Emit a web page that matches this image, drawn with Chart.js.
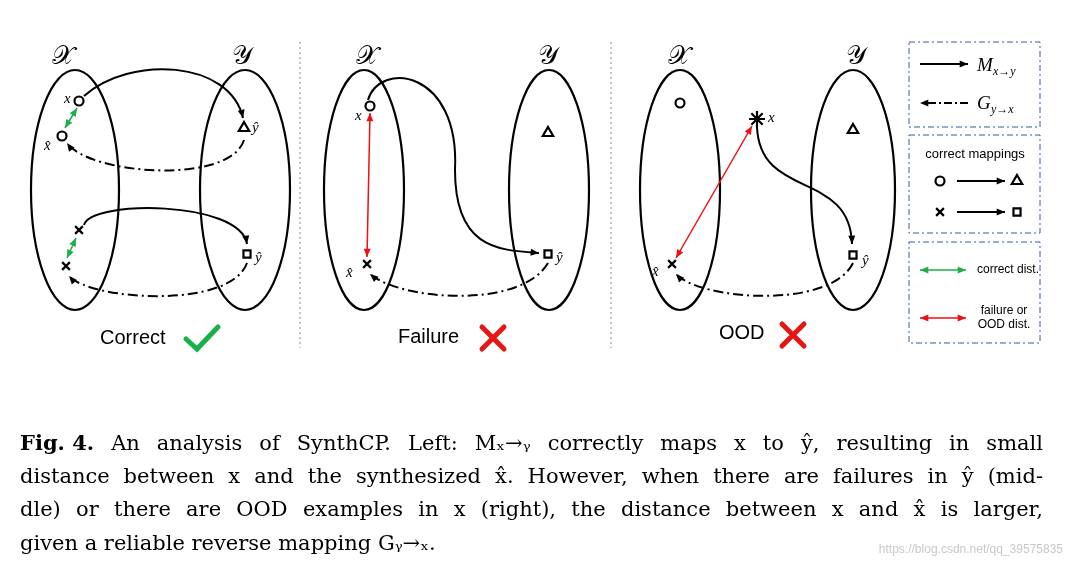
<!DOCTYPE html>
<html>
<head>
<meta charset="UTF-8">
<title>SynthCP analysis</title>
<script src="https://cdn.jsdelivr.net/npm/chart.js@4/dist/chart.umd.min.js"></script>
<style>
  html, body { margin: 0; padding: 0; background: #fff; }
  #wrap { width: 1073px; height: 568px; }
</style>
</head>
<body>
<div id="wrap"><canvas id="fig"></canvas></div>
<script>
// marker positions (figure coordinates, y downwards)
const circles   = [[79,101],[62,136],[370,106],[680,103],[940,181]];
const triangles = [[244,128],[548,133],[853,130],[1017,181]];
const crosses   = [[79,230],[66,266],[367,264],[672,264],[940,212]];
const squares   = [[247,254],[548,254],[853,255],[1017,212]];
const stars     = [[757,119]];
const panelLabels = ['Correct', 'Failure', 'OOD'];
const caption = [
  ['Fig. 4.', ' An analysis of SynthCP. Left: M\u2093\u2192\u1d67 correctly maps x to \u0177, resulting in small'],
  ['', 'distance between x and the synthesized x\u0302. However, when there are failures in \u0177 (mid-'],
  ['', 'dle) or there are OOD examples in x (right), the distance between x and x\u0302 is larger,'],
  ['', 'given a reliable reverse mapping G\u1d67\u2192\u2093.']
];

const pts = a => a.map(p => ({x: p[0], y: p[1]}));
const mk = (d, style, r) => ({
  data: pts(d), pointStyle: style, pointRadius: r, borderColor: '#000',
  backgroundColor: '#fff', pointBorderWidth: 2.2, showLine: false
});

const decor = {
  id: 'decor',
  beforeDatasetsDraw(chart) {
    const c = chart.ctx, X = chart.scales.x, Y = chart.scales.y;
    const px = v => X.getPixelForValue(v), py = v => Y.getPixelForValue(v);
    c.save();
    // ellipses
    c.strokeStyle = '#000'; c.lineWidth = 2.2;
    [[75,190,44,120],[245,190,45,120],[364,190,40,120],[549,190,40,120],[680,190,40,120],[853,190,42,120]]
      .forEach(e => { c.beginPath(); c.ellipse(px(e[0]), py(e[1]), e[2], e[3], 0, 0, Math.PI*2); c.stroke(); });
    // separators
    c.strokeStyle = '#7a8aa8'; c.lineWidth = 1; c.setLineDash([2,3]);
    [300, 611].forEach(x => { c.beginPath(); c.moveTo(px(x), py(42)); c.lineTo(px(x), py(348)); c.stroke(); });
    // legend boxes
    c.strokeStyle = '#3b5ba0'; c.setLineDash([6,3,2,3]);
    [[909,42,131,85],[909,135,131,98],[909,242,131,101]].forEach(b => c.strokeRect(px(b[0]), py(b[1]), b[2], b[3]));
    c.setLineDash([]);

    const head = (x1, y1, x2, y2, col) => {
      const a = Math.atan2(y2 - y1, x2 - x1), L = 9;
      c.fillStyle = col; c.beginPath();
      c.moveTo(px(x2), py(y2));
      c.lineTo(px(x2) - L*Math.cos(a-0.4), py(y2) - L*Math.sin(a-0.4));
      c.lineTo(px(x2) - L*Math.cos(a+0.4), py(y2) - L*Math.sin(a+0.4));
      c.closePath(); c.fill();
    };
    const curve = (p, dash, col, w) => {
      c.strokeStyle = col || '#000'; c.lineWidth = w || 2; c.setLineDash(dash || []);
      c.beginPath(); c.moveTo(px(p[0]), py(p[1]));
      if (p.length === 4) c.lineTo(px(p[2]), py(p[3]));
      else c.bezierCurveTo(px(p[2]), py(p[3]), px(p[4]), py(p[5]), px(p[6]), py(p[7]));
      c.stroke(); c.setLineDash([]);
      const n = p.length;
      head(p[n-4], p[n-3], p[n-2], p[n-1], col || '#000');
    };
    const path = (p) => {
      c.strokeStyle = '#000'; c.lineWidth = 2; c.beginPath(); c.moveTo(px(p[0]), py(p[1]));
      c.bezierCurveTo(px(p[2]), py(p[3]), px(p[4]), py(p[5]), px(p[6]), py(p[7])); c.stroke();
    };
    const dd = (x1, y1, x2, y2, col) => {
      c.strokeStyle = col; c.lineWidth = 1.5;
      c.beginPath(); c.moveTo(px(x1), py(y1)); c.lineTo(px(x2), py(y2)); c.stroke();
      head(x2, y2, x1, y1, col); head(x1, y1, x2, y2, col);
    };
    const dash = [10,4,2,4];
    // panel 1
    curve([84,96, 130,55, 230,60, 243,118]);
    curve([244,140, 230,185, 90,175, 67,143], dash);
    dd(77,108,65,128,'#1fae4a');
    curve([84,225, 90,200, 240,200, 247,244]);
    curve([247,263, 230,310, 90,300, 69,276], dash);
    dd(76,238,67,258,'#1fae4a');
    // panel 2
    path([368,100, 380,60, 460,70, 455,170]);
    curve([455,170, 455,250, 500,250, 539,253]);
    dd(370,113,367,257,'#f01010');
    curve([548,263, 520,310, 400,300, 370,274], dash);
    // panel 3
    curve([757,127, 760,200, 850,170, 852,244]);
    dd(752,126,676,258,'#f01010');
    curve([853,263, 830,310, 700,300, 676,274], dash);
    // legend arrows
    curve([920,64, 968,64]);
    curve([968,103, 920,103], [8,3,2,3]);
    curve([957,181, 1005,181]);
    curve([957,212, 1005,212]);
    dd(920,270,966,270,'#1fae4a');
    dd(920,318,966,318,'#f01010');

    // texts
    const txt = (s, x, y, font, col, align) => {
      c.font = font; c.fillStyle = col || '#000'; c.textAlign = align || 'left';
      c.textBaseline = 'middle'; c.fillText(s, px(x), py(y));
    };
    [[52,57],[356,57],[668,57]].forEach(p => txt('\ud835\udcb3', p[0], p[1], '26px "DejaVu Serif"'));
    [[232,57],[538,57],[846,57]].forEach(p => txt('\ud835\udcb4', p[0], p[1], '26px "DejaVu Serif"'));
    const it = 'italic 15px "Liberation Serif"';
    txt('x', 64, 99, it); txt('x\u0302', 44, 146, it); txt('\u0177', 252, 128, it);
    txt('\u0177', 255, 258, it); txt('x', 355, 116, it); txt('x\u0302', 346, 273, it);
    txt('\u0177', 556, 258, it); txt('x', 768, 118, it); txt('x\u0302', 652, 272, it);
    txt('\u0177', 862, 261, it);
    const sans = '20px "Liberation Sans"';
    txt(panelLabels[0], 100, 338, sans); txt(panelLabels[1], 398, 337, sans); txt(panelLabels[2], 719, 333, sans);
    // check mark and crosses
    c.lineCap = 'round'; c.lineWidth = 5; c.strokeStyle = '#17b04a';
    c.beginPath(); c.moveTo(px(186), py(339)); c.lineTo(px(197), py(349)); c.lineTo(px(218), py(327)); c.stroke();
    c.strokeStyle = '#e81515';
    [[493,338],[793,335]].forEach(p => {
      c.beginPath(); c.moveTo(px(p[0]-11), py(p[1]-11)); c.lineTo(px(p[0]+11), py(p[1]+11));
      c.moveTo(px(p[0]+11), py(p[1]-11)); c.lineTo(px(p[0]-11), py(p[1]+11)); c.stroke();
    });
    c.lineCap = 'butt';
    txt('M', 977, 66, 'italic 19px "Liberation Serif"'); txt('x\u2192y', 993, 72, 'italic 12px "Liberation Serif"');
    txt('G', 977, 104, 'italic 19px "Liberation Serif"'); txt('y\u2192x', 991, 110, 'italic 12px "Liberation Serif"');
    txt('correct mappings', 975, 154, '13px "Liberation Sans"', '#000', 'center');
    txt('correct dist.', 1008, 270, '12px "Liberation Sans"', '#000', 'center');
    txt('failure or', 1004, 311, '12px "Liberation Sans"', '#000', 'center');
    txt('OOD dist.', 1004, 325, '12px "Liberation Sans"', '#000', 'center');

    // caption, justified except last line
    const left = 20, right = 1043, ys = [445, 478, 511, 545];
    caption.forEach((ln, i) => {
      c.textBaseline = 'middle'; c.textAlign = 'left';
      c.font = 'bold 21px "DejaVu Serif"';
      const bw = c.measureText(ln[0]).width;
      c.fillStyle = '#000'; c.fillText(ln[0], px(left), py(ys[i]));
      c.font = '21px "DejaVu Serif"';
      const words = ln[1].trim().split(' ');
      const tot = words.reduce((s, w) => s + c.measureText(w).width, 0);
      const gap = i < 3 ? (right - left - bw - tot) / (words.length - (ln[0] ? 0 : 1)) : c.measureText(' ').width;
      let x = left + bw + (ln[0] ? gap : 0);
      words.forEach(w => { c.fillText(w, px(x), py(ys[i])); x += c.measureText(w).width + gap; });
    });
    txt('https://blog.csdn.net/qq_39575835', 1063, 550, '12px "Liberation Sans"', '#c8c8c8', 'right');
    c.restore();
  }
};

new Chart(document.getElementById('fig'), {
  type: 'scatter',
  data: { datasets: [
    mk(circles, 'circle', 4.5), mk(triangles, 'triangle', 6), mk(crosses, 'crossRot', 5.5),
    mk(squares, 'rect', 5), mk(stars, 'star', 8)
  ]},
  options: {
    responsive: true, maintainAspectRatio: false, animation: false,
    layout: { padding: 0, autoPadding: false },
    clip: false,
    plugins: { legend: { display: false }, tooltip: { enabled: false } },
    scales: {
      x: { type: 'linear', min: 0, max: 1073, display: false },
      y: { type: 'linear', min: 0, max: 568, reverse: true, display: false }
    }
  },
  plugins: [decor]
});
</script>
</body>
</html>
